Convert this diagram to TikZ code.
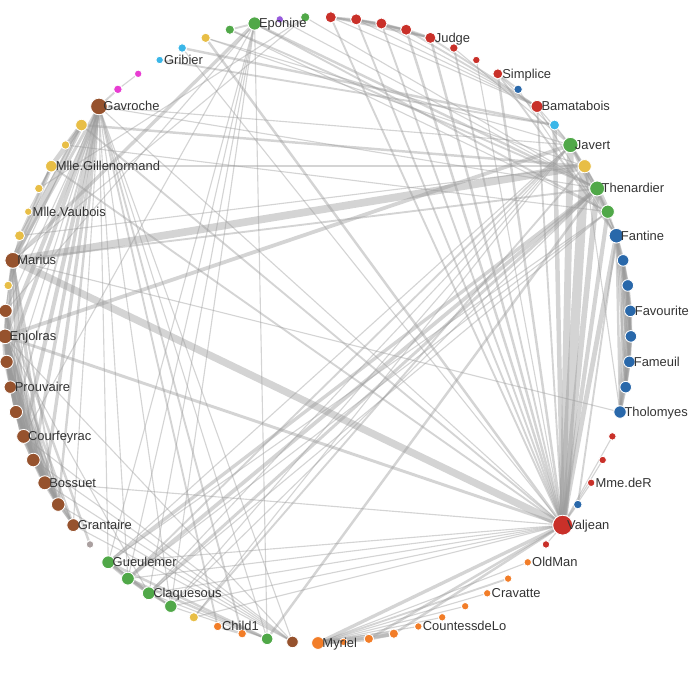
\documentclass[tikz,border=0pt]{standalone}
\usepackage{fontspec}
\setmainfont{Liberation Sans}
\usetikzlibrary{backgrounds}

\definecolor{cCyan}{RGB}{58,182,232}
\definecolor{cOrange}{RGB}{242,125,40}
\definecolor{cRed}{RGB}{201,48,41}
\definecolor{cBlue}{RGB}{41,104,170}
\definecolor{cGreen}{RGB}{80,168,72}
\definecolor{cYellow}{RGB}{232,190,70}
\definecolor{cPurple}{RGB}{150,90,220}
\definecolor{cPink}{RGB}{232,60,210}
\definecolor{cBrown}{RGB}{150,82,45}
\definecolor{cGrey}{RGB}{170,160,160}

\begin{document}
\begin{tikzpicture}
[
x=0.025cm, y=0.025cm,
Char/.style={circle, draw=white, line width=0.6pt, inner sep=0pt, minimum size={(3.6+1.75*sqrt(#1))*1pt}},
Name/.style={anchor=base west, inner sep=0pt, xshift=3pt, yshift=-3.2pt, text=black!80, font=\fontsize{9.2}{10}\selectfont},
Link/.style={draw=black!40, draw opacity=0.42, line width={1.3*sqrt(#1)-0.5}},
]

\useasboundingbox (-318,-360) rectangle (374,330);

\node[Char=10, fill=cOrange] (Myriel) at ({-90+0*4.675325}:313) {};
\node[Char=1, fill=cOrange] (Napoleon) at ({-90+1*4.675325}:313) {};
\node[Char=3, fill=cOrange] (MlleBaptistine) at ({-90+2*4.675325}:313) {};
\node[Char=3, fill=cOrange] (MmeMagloire) at ({-90+3*4.675325}:313) {};
\node[Char=1, fill=cOrange] (CountessdeLo) at ({-90+4*4.675325}:313) {};
\node[Char=1, fill=cOrange] (Geborand) at ({-90+5*4.675325}:313) {};
\node[Char=1, fill=cOrange] (Champtercier) at ({-90+6*4.675325}:313) {};
\node[Char=1, fill=cOrange] (Cravatte) at ({-90+7*4.675325}:313) {};
\node[Char=1, fill=cOrange] (Count) at ({-90+8*4.675325}:313) {};
\node[Char=1, fill=cOrange] (OldMan) at ({-90+9*4.675325}:313) {};
\node[Char=1, fill=cRed] (Labarre) at ({-90+10*4.675325}:313) {};
\node[Char=36, fill=cRed] (Valjean) at ({-90+11*4.675325}:313) {};
\node[Char=2, fill=cBlue] (Marguerite) at ({-90+12*4.675325}:313) {};
\node[Char=1, fill=cRed] (MmedeR) at ({-90+13*4.675325}:313) {};
\node[Char=1, fill=cRed] (Isabeau) at ({-90+14*4.675325}:313) {};
\node[Char=1, fill=cRed] (Gervais) at ({-90+15*4.675325}:313) {};
\node[Char=9, fill=cBlue] (Tholomyes) at ({-90+16*4.675325}:313) {};
\node[Char=7, fill=cBlue] (Listolier) at ({-90+17*4.675325}:313) {};
\node[Char=7, fill=cBlue] (Fameuil) at ({-90+18*4.675325}:313) {};
\node[Char=7, fill=cBlue] (Blacheville) at ({-90+19*4.675325}:313) {};
\node[Char=7, fill=cBlue] (Favourite) at ({-90+20*4.675325}:313) {};
\node[Char=7, fill=cBlue] (Dahlia) at ({-90+21*4.675325}:313) {};
\node[Char=7, fill=cBlue] (Zephine) at ({-90+22*4.675325}:313) {};
\node[Char=15, fill=cBlue] (Fantine) at ({-90+23*4.675325}:313) {};
\node[Char=11, fill=cGreen] (MmeThenardier) at ({-90+24*4.675325}:313) {};
\node[Char=16, fill=cGreen] (Thenardier) at ({-90+25*4.675325}:313) {};
\node[Char=11, fill=cYellow] (Cosette) at ({-90+26*4.675325}:313) {};
\node[Char=17, fill=cGreen] (Javert) at ({-90+27*4.675325}:313) {};
\node[Char=4, fill=cCyan] (Fauchelevent) at ({-90+28*4.675325}:313) {};
\node[Char=8, fill=cRed] (Bamatabois) at ({-90+29*4.675325}:313) {};
\node[Char=2, fill=cBlue] (Perpetue) at ({-90+30*4.675325}:313) {};
\node[Char=4, fill=cRed] (Simplice) at ({-90+31*4.675325}:313) {};
\node[Char=1, fill=cRed] (Scaufflaire) at ({-90+32*4.675325}:313) {};
\node[Char=2, fill=cRed] (Woman1) at ({-90+33*4.675325}:313) {};
\node[Char=6, fill=cRed] (Judge) at ({-90+34*4.675325}:313) {};
\node[Char=6, fill=cRed] (Champmathieu) at ({-90+35*4.675325}:313) {};
\node[Char=6, fill=cRed] (Brevet) at ({-90+36*4.675325}:313) {};
\node[Char=6, fill=cRed] (Chenildieu) at ({-90+37*4.675325}:313) {};
\node[Char=6, fill=cRed] (Cochepaille) at ({-90+38*4.675325}:313) {};
\node[Char=3, fill=cGreen] (Pontmercy) at ({-90+39*4.675325}:313) {};
\node[Char=1, fill=cPurple] (Boulatruelle) at ({-90+40*4.675325}:313) {};
\node[Char=11, fill=cGreen] (Eponine) at ({-90+41*4.675325}:313) {};
\node[Char=3, fill=cGreen] (Anzelma) at ({-90+42*4.675325}:313) {};
\node[Char=3, fill=cYellow] (Woman2) at ({-90+43*4.675325}:313) {};
\node[Char=2, fill=cCyan] (MotherInnocent) at ({-90+44*4.675325}:313) {};
\node[Char=1, fill=cCyan] (Gribier) at ({-90+45*4.675325}:313) {};
\node[Char=1, fill=cPink] (Jondrette) at ({-90+46*4.675325}:313) {};
\node[Char=2, fill=cPink] (MmeBurgon) at ({-90+47*4.675325}:313) {};
\node[Char=22, fill=cBrown] (Gavroche) at ({-90+48*4.675325}:313) {};
\node[Char=7, fill=cYellow] (Gillenormand) at ({-90+49*4.675325}:313) {};
\node[Char=2, fill=cYellow] (Magnon) at ({-90+50*4.675325}:313) {};
\node[Char=7, fill=cYellow] (MlleGillenormand) at ({-90+51*4.675325}:313) {};
\node[Char=2, fill=cYellow] (MmePontmercy) at ({-90+52*4.675325}:313) {};
\node[Char=1, fill=cYellow] (MlleVaubois) at ({-90+53*4.675325}:313) {};
\node[Char=4, fill=cYellow] (LtGillenormand) at ({-90+54*4.675325}:313) {};
\node[Char=19, fill=cBrown] (Marius) at ({-90+55*4.675325}:313) {};
\node[Char=2, fill=cYellow] (BaronessT) at ({-90+56*4.675325}:313) {};
\node[Char=11, fill=cBrown] (Mabeuf) at ({-90+57*4.675325}:313) {};
\node[Char=15, fill=cBrown] (Enjolras) at ({-90+58*4.675325}:313) {};
\node[Char=11, fill=cBrown] (Combeferre) at ({-90+59*4.675325}:313) {};
\node[Char=9, fill=cBrown] (Prouvaire) at ({-90+60*4.675325}:313) {};
\node[Char=11, fill=cBrown] (Feuilly) at ({-90+61*4.675325}:313) {};
\node[Char=13, fill=cBrown] (Courfeyrac) at ({-90+62*4.675325}:313) {};
\node[Char=12, fill=cBrown] (Bahorel) at ({-90+63*4.675325}:313) {};
\node[Char=13, fill=cBrown] (Bossuet) at ({-90+64*4.675325}:313) {};
\node[Char=12, fill=cBrown] (Joly) at ({-90+65*4.675325}:313) {};
\node[Char=10, fill=cBrown] (Grantaire) at ({-90+66*4.675325}:313) {};
\node[Char=1, fill=cGrey] (MotherPlutarch) at ({-90+67*4.675325}:313) {};
\node[Char=10, fill=cGreen] (Gueulemer) at ({-90+68*4.675325}:313) {};
\node[Char=10, fill=cGreen] (Babet) at ({-90+69*4.675325}:313) {};
\node[Char=10, fill=cGreen] (Claquesous) at ({-90+70*4.675325}:313) {};
\node[Char=9, fill=cGreen] (Montparnasse) at ({-90+71*4.675325}:313) {};
\node[Char=3, fill=cYellow] (Toussaint) at ({-90+72*4.675325}:313) {};
\node[Char=2, fill=cOrange] (Child1) at ({-90+73*4.675325}:313) {};
\node[Char=2, fill=cOrange] (Child2) at ({-90+74*4.675325}:313) {};
\node[Char=7, fill=cGreen] (Brujon) at ({-90+75*4.675325}:313) {};
\node[Char=7, fill=cBrown] (MmeHucheloup) at ({-90+76*4.675325}:313) {};

\node[Name] (tMyriel) at (Myriel.center) {Myriel};
\node[Name] (tCountessdeLo) at (CountessdeLo.center) {CountessdeLo};
\node[Name] (tCravatte) at (Cravatte.center) {Cravatte};
\node[Name] (tOldMan) at (OldMan.center) {OldMan};
\node[Name] (tValjean) at (Valjean.center) {Valjean};
\node[Name] (tMmedeR) at (MmedeR.center) {Mme.deR};
\node[Name] (tTholomyes) at (Tholomyes.center) {Tholomyes};
\node[Name] (tFameuil) at (Fameuil.center) {Fameuil};
\node[Name] (tFavourite) at (Favourite.center) {Favourite};
\node[Name] (tFantine) at (Fantine.center) {Fantine};
\node[Name] (tThenardier) at (Thenardier.center) {Thenardier};
\node[Name] (tJavert) at (Javert.center) {Javert};
\node[Name] (tBamatabois) at (Bamatabois.center) {Bamatabois};
\node[Name] (tSimplice) at (Simplice.center) {Simplice};
\node[Name] (tJudge) at (Judge.center) {Judge};
\node[Name] (tEponine) at (Eponine.center) {Eponine};
\node[Name] (tGribier) at (Gribier.center) {Gribier};
\node[Name] (tGavroche) at (Gavroche.center) {Gavroche};
\node[Name] (tMlleGillenormand) at (MlleGillenormand.center) {Mlle.Gillenormand};
\node[Name] (tMlleVaubois) at (MlleVaubois.center) {Mlle.Vaubois};
\node[Name] (tMarius) at (Marius.center) {Marius};
\node[Name] (tEnjolras) at (Enjolras.center) {Enjolras};
\node[Name] (tProuvaire) at (Prouvaire.center) {Prouvaire};
\node[Name] (tCourfeyrac) at (Courfeyrac.center) {Courfeyrac};
\node[Name] (tBossuet) at (Bossuet.center) {Bossuet};
\node[Name] (tGrantaire) at (Grantaire.center) {Grantaire};
\node[Name] (tGueulemer) at (Gueulemer.center) {Gueulemer};
\node[Name] (tClaquesous) at (Claquesous.center) {Claquesous};
\node[Name] (tChild1) at (Child1.center) {Child1};

\begin{pgfonlayer}{background}
\draw[Link=1] (Napoleon) -- (Myriel);
\draw[Link=8] (MlleBaptistine) -- (Myriel);
\draw[Link=10] (MmeMagloire) -- (Myriel);
\draw[Link=6] (MmeMagloire) -- (MlleBaptistine);
\draw[Link=1] (CountessdeLo) -- (Myriel);
\draw[Link=1] (Geborand) -- (Myriel);
\draw[Link=1] (Champtercier) -- (Myriel);
\draw[Link=1] (Cravatte) -- (Myriel);
\draw[Link=2] (Count) -- (Myriel);
\draw[Link=1] (OldMan) -- (Myriel);
\draw[Link=1] (Valjean) -- (Labarre);
\draw[Link=3] (Valjean) -- (MmeMagloire);
\draw[Link=3] (Valjean) -- (MlleBaptistine);
\draw[Link=5] (Valjean) -- (Myriel);
\draw[Link=1] (Marguerite) -- (Valjean);
\draw[Link=1] (MmedeR) -- (Valjean);
\draw[Link=1] (Isabeau) -- (Valjean);
\draw[Link=1] (Gervais) -- (Valjean);
\draw[Link=4] (Listolier) -- (Tholomyes);
\draw[Link=4] (Fameuil) -- (Tholomyes);
\draw[Link=4] (Fameuil) -- (Listolier);
\draw[Link=4] (Blacheville) -- (Tholomyes);
\draw[Link=4] (Blacheville) -- (Listolier);
\draw[Link=4] (Blacheville) -- (Fameuil);
\draw[Link=3] (Favourite) -- (Tholomyes);
\draw[Link=3] (Favourite) -- (Listolier);
\draw[Link=3] (Favourite) -- (Fameuil);
\draw[Link=4] (Favourite) -- (Blacheville);
\draw[Link=3] (Dahlia) -- (Tholomyes);
\draw[Link=3] (Dahlia) -- (Listolier);
\draw[Link=3] (Dahlia) -- (Fameuil);
\draw[Link=3] (Dahlia) -- (Blacheville);
\draw[Link=5] (Dahlia) -- (Favourite);
\draw[Link=3] (Zephine) -- (Tholomyes);
\draw[Link=3] (Zephine) -- (Listolier);
\draw[Link=3] (Zephine) -- (Fameuil);
\draw[Link=3] (Zephine) -- (Blacheville);
\draw[Link=4] (Zephine) -- (Favourite);
\draw[Link=4] (Zephine) -- (Dahlia);
\draw[Link=3] (Fantine) -- (Tholomyes);
\draw[Link=3] (Fantine) -- (Listolier);
\draw[Link=3] (Fantine) -- (Fameuil);
\draw[Link=3] (Fantine) -- (Blacheville);
\draw[Link=4] (Fantine) -- (Favourite);
\draw[Link=4] (Fantine) -- (Dahlia);
\draw[Link=4] (Fantine) -- (Zephine);
\draw[Link=2] (Fantine) -- (Marguerite);
\draw[Link=9] (Fantine) -- (Valjean);
\draw[Link=2] (MmeThenardier) -- (Fantine);
\draw[Link=7] (MmeThenardier) -- (Valjean);
\draw[Link=13] (Thenardier) -- (MmeThenardier);
\draw[Link=1] (Thenardier) -- (Fantine);
\draw[Link=12] (Thenardier) -- (Valjean);
\draw[Link=4] (Cosette) -- (MmeThenardier);
\draw[Link=31] (Cosette) -- (Valjean);
\draw[Link=1] (Cosette) -- (Tholomyes);
\draw[Link=1] (Cosette) -- (Thenardier);
\draw[Link=17] (Javert) -- (Valjean);
\draw[Link=5] (Javert) -- (Fantine);
\draw[Link=5] (Javert) -- (Thenardier);
\draw[Link=1] (Javert) -- (MmeThenardier);
\draw[Link=1] (Javert) -- (Cosette);
\draw[Link=8] (Fauchelevent) -- (Valjean);
\draw[Link=1] (Fauchelevent) -- (Javert);
\draw[Link=1] (Bamatabois) -- (Fantine);
\draw[Link=1] (Bamatabois) -- (Javert);
\draw[Link=2] (Bamatabois) -- (Valjean);
\draw[Link=1] (Perpetue) -- (Fantine);
\draw[Link=2] (Simplice) -- (Perpetue);
\draw[Link=3] (Simplice) -- (Valjean);
\draw[Link=2] (Simplice) -- (Fantine);
\draw[Link=1] (Simplice) -- (Javert);
\draw[Link=1] (Scaufflaire) -- (Valjean);
\draw[Link=2] (Woman1) -- (Valjean);
\draw[Link=1] (Woman1) -- (Javert);
\draw[Link=3] (Judge) -- (Valjean);
\draw[Link=2] (Judge) -- (Bamatabois);
\draw[Link=3] (Champmathieu) -- (Valjean);
\draw[Link=3] (Champmathieu) -- (Judge);
\draw[Link=2] (Champmathieu) -- (Bamatabois);
\draw[Link=2] (Brevet) -- (Judge);
\draw[Link=2] (Brevet) -- (Champmathieu);
\draw[Link=2] (Brevet) -- (Valjean);
\draw[Link=1] (Brevet) -- (Bamatabois);
\draw[Link=2] (Chenildieu) -- (Judge);
\draw[Link=2] (Chenildieu) -- (Champmathieu);
\draw[Link=2] (Chenildieu) -- (Brevet);
\draw[Link=2] (Chenildieu) -- (Valjean);
\draw[Link=1] (Chenildieu) -- (Bamatabois);
\draw[Link=2] (Cochepaille) -- (Judge);
\draw[Link=2] (Cochepaille) -- (Champmathieu);
\draw[Link=2] (Cochepaille) -- (Brevet);
\draw[Link=2] (Cochepaille) -- (Chenildieu);
\draw[Link=2] (Cochepaille) -- (Valjean);
\draw[Link=1] (Cochepaille) -- (Bamatabois);
\draw[Link=1] (Pontmercy) -- (Thenardier);
\draw[Link=1] (Boulatruelle) -- (Thenardier);
\draw[Link=2] (Eponine) -- (MmeThenardier);
\draw[Link=3] (Eponine) -- (Thenardier);
\draw[Link=2] (Anzelma) -- (Eponine);
\draw[Link=2] (Anzelma) -- (Thenardier);
\draw[Link=1] (Anzelma) -- (MmeThenardier);
\draw[Link=3] (Woman2) -- (Valjean);
\draw[Link=1] (Woman2) -- (Cosette);
\draw[Link=1] (Woman2) -- (Javert);
\draw[Link=3] (MotherInnocent) -- (Fauchelevent);
\draw[Link=1] (MotherInnocent) -- (Valjean);
\draw[Link=2] (Gribier) -- (Fauchelevent);
\draw[Link=1] (MmeBurgon) -- (Jondrette);
\draw[Link=2] (Gavroche) -- (MmeBurgon);
\draw[Link=1] (Gavroche) -- (Thenardier);
\draw[Link=1] (Gavroche) -- (Javert);
\draw[Link=1] (Gavroche) -- (Valjean);
\draw[Link=3] (Gillenormand) -- (Cosette);
\draw[Link=2] (Gillenormand) -- (Valjean);
\draw[Link=1] (Magnon) -- (Gillenormand);
\draw[Link=1] (Magnon) -- (MmeThenardier);
\draw[Link=9] (MlleGillenormand) -- (Gillenormand);
\draw[Link=2] (MlleGillenormand) -- (Cosette);
\draw[Link=2] (MlleGillenormand) -- (Valjean);
\draw[Link=1] (MmePontmercy) -- (MlleGillenormand);
\draw[Link=1] (MmePontmercy) -- (Pontmercy);
\draw[Link=1] (MlleVaubois) -- (MlleGillenormand);
\draw[Link=2] (LtGillenormand) -- (MlleGillenormand);
\draw[Link=1] (LtGillenormand) -- (Gillenormand);
\draw[Link=1] (LtGillenormand) -- (Cosette);
\draw[Link=6] (Marius) -- (MlleGillenormand);
\draw[Link=12] (Marius) -- (Gillenormand);
\draw[Link=1] (Marius) -- (Pontmercy);
\draw[Link=1] (Marius) -- (LtGillenormand);
\draw[Link=21] (Marius) -- (Cosette);
\draw[Link=19] (Marius) -- (Valjean);
\draw[Link=1] (Marius) -- (Tholomyes);
\draw[Link=2] (Marius) -- (Thenardier);
\draw[Link=5] (Marius) -- (Eponine);
\draw[Link=4] (Marius) -- (Gavroche);
\draw[Link=1] (BaronessT) -- (Gillenormand);
\draw[Link=1] (BaronessT) -- (Marius);
\draw[Link=1] (Mabeuf) -- (Marius);
\draw[Link=1] (Mabeuf) -- (Eponine);
\draw[Link=1] (Mabeuf) -- (Gavroche);
\draw[Link=7] (Enjolras) -- (Marius);
\draw[Link=7] (Enjolras) -- (Gavroche);
\draw[Link=6] (Enjolras) -- (Javert);
\draw[Link=1] (Enjolras) -- (Mabeuf);
\draw[Link=4] (Enjolras) -- (Valjean);
\draw[Link=15] (Combeferre) -- (Enjolras);
\draw[Link=5] (Combeferre) -- (Marius);
\draw[Link=6] (Combeferre) -- (Gavroche);
\draw[Link=2] (Combeferre) -- (Mabeuf);
\draw[Link=1] (Prouvaire) -- (Gavroche);
\draw[Link=4] (Prouvaire) -- (Enjolras);
\draw[Link=2] (Prouvaire) -- (Combeferre);
\draw[Link=2] (Feuilly) -- (Gavroche);
\draw[Link=6] (Feuilly) -- (Enjolras);
\draw[Link=2] (Feuilly) -- (Prouvaire);
\draw[Link=5] (Feuilly) -- (Combeferre);
\draw[Link=1] (Feuilly) -- (Mabeuf);
\draw[Link=1] (Feuilly) -- (Marius);
\draw[Link=9] (Courfeyrac) -- (Marius);
\draw[Link=17] (Courfeyrac) -- (Enjolras);
\draw[Link=13] (Courfeyrac) -- (Combeferre);
\draw[Link=7] (Courfeyrac) -- (Gavroche);
\draw[Link=2] (Courfeyrac) -- (Mabeuf);
\draw[Link=1] (Courfeyrac) -- (Eponine);
\draw[Link=6] (Courfeyrac) -- (Feuilly);
\draw[Link=3] (Courfeyrac) -- (Prouvaire);
\draw[Link=5] (Bahorel) -- (Combeferre);
\draw[Link=5] (Bahorel) -- (Gavroche);
\draw[Link=6] (Bahorel) -- (Courfeyrac);
\draw[Link=2] (Bahorel) -- (Mabeuf);
\draw[Link=4] (Bahorel) -- (Enjolras);
\draw[Link=3] (Bahorel) -- (Feuilly);
\draw[Link=2] (Bahorel) -- (Prouvaire);
\draw[Link=1] (Bahorel) -- (Marius);
\draw[Link=5] (Bossuet) -- (Marius);
\draw[Link=12] (Bossuet) -- (Courfeyrac);
\draw[Link=5] (Bossuet) -- (Gavroche);
\draw[Link=4] (Bossuet) -- (Bahorel);
\draw[Link=10] (Bossuet) -- (Enjolras);
\draw[Link=6] (Bossuet) -- (Feuilly);
\draw[Link=2] (Bossuet) -- (Prouvaire);
\draw[Link=9] (Bossuet) -- (Combeferre);
\draw[Link=1] (Bossuet) -- (Mabeuf);
\draw[Link=1] (Bossuet) -- (Valjean);
\draw[Link=5] (Joly) -- (Bahorel);
\draw[Link=7] (Joly) -- (Bossuet);
\draw[Link=3] (Joly) -- (Gavroche);
\draw[Link=5] (Joly) -- (Courfeyrac);
\draw[Link=5] (Joly) -- (Enjolras);
\draw[Link=5] (Joly) -- (Feuilly);
\draw[Link=2] (Joly) -- (Prouvaire);
\draw[Link=5] (Joly) -- (Combeferre);
\draw[Link=1] (Joly) -- (Mabeuf);
\draw[Link=2] (Joly) -- (Marius);
\draw[Link=3] (Grantaire) -- (Bossuet);
\draw[Link=3] (Grantaire) -- (Enjolras);
\draw[Link=1] (Grantaire) -- (Combeferre);
\draw[Link=2] (Grantaire) -- (Courfeyrac);
\draw[Link=2] (Grantaire) -- (Joly);
\draw[Link=1] (Grantaire) -- (Gavroche);
\draw[Link=1] (Grantaire) -- (Bahorel);
\draw[Link=1] (Grantaire) -- (Feuilly);
\draw[Link=1] (Grantaire) -- (Prouvaire);
\draw[Link=3] (MotherPlutarch) -- (Mabeuf);
\draw[Link=5] (Gueulemer) -- (Thenardier);
\draw[Link=1] (Gueulemer) -- (Valjean);
\draw[Link=1] (Gueulemer) -- (MmeThenardier);
\draw[Link=1] (Gueulemer) -- (Javert);
\draw[Link=1] (Gueulemer) -- (Gavroche);
\draw[Link=1] (Gueulemer) -- (Eponine);
\draw[Link=6] (Babet) -- (Thenardier);
\draw[Link=6] (Babet) -- (Gueulemer);
\draw[Link=1] (Babet) -- (Valjean);
\draw[Link=1] (Babet) -- (MmeThenardier);
\draw[Link=2] (Babet) -- (Javert);
\draw[Link=1] (Babet) -- (Gavroche);
\draw[Link=1] (Babet) -- (Eponine);
\draw[Link=4] (Claquesous) -- (Thenardier);
\draw[Link=4] (Claquesous) -- (Babet);
\draw[Link=4] (Claquesous) -- (Gueulemer);
\draw[Link=1] (Claquesous) -- (Valjean);
\draw[Link=1] (Claquesous) -- (MmeThenardier);
\draw[Link=1] (Claquesous) -- (Javert);
\draw[Link=1] (Claquesous) -- (Eponine);
\draw[Link=1] (Claquesous) -- (Enjolras);
\draw[Link=1] (Montparnasse) -- (Javert);
\draw[Link=2] (Montparnasse) -- (Babet);
\draw[Link=2] (Montparnasse) -- (Gueulemer);
\draw[Link=2] (Montparnasse) -- (Claquesous);
\draw[Link=1] (Montparnasse) -- (Valjean);
\draw[Link=1] (Montparnasse) -- (Gavroche);
\draw[Link=1] (Montparnasse) -- (Eponine);
\draw[Link=1] (Montparnasse) -- (Thenardier);
\draw[Link=2] (Toussaint) -- (Cosette);
\draw[Link=1] (Toussaint) -- (Javert);
\draw[Link=1] (Toussaint) -- (Valjean);
\draw[Link=2] (Child1) -- (Gavroche);
\draw[Link=2] (Child2) -- (Gavroche);
\draw[Link=3] (Child2) -- (Child1);
\draw[Link=3] (Brujon) -- (Babet);
\draw[Link=3] (Brujon) -- (Gueulemer);
\draw[Link=3] (Brujon) -- (Thenardier);
\draw[Link=1] (Brujon) -- (Gavroche);
\draw[Link=1] (Brujon) -- (Eponine);
\draw[Link=1] (Brujon) -- (Claquesous);
\draw[Link=1] (Brujon) -- (Montparnasse);
\draw[Link=1] (MmeHucheloup) -- (Bossuet);
\draw[Link=1] (MmeHucheloup) -- (Joly);
\draw[Link=1] (MmeHucheloup) -- (Grantaire);
\draw[Link=1] (MmeHucheloup) -- (Bahorel);
\draw[Link=1] (MmeHucheloup) -- (Courfeyrac);
\draw[Link=1] (MmeHucheloup) -- (Gavroche);
\draw[Link=1] (MmeHucheloup) -- (Enjolras);
\end{pgfonlayer}

\end{tikzpicture}
\end{document}
